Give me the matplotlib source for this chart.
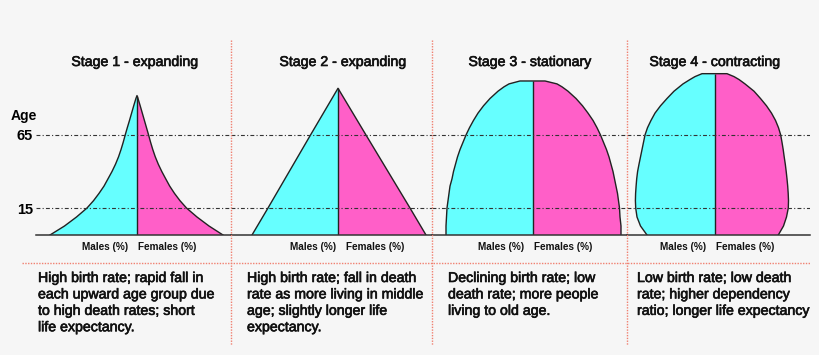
import numpy as np
import matplotlib
matplotlib.use("Agg")
import matplotlib.pyplot as plt
from matplotlib.lines import Line2D
import matplotlib.transforms as mtrans
import matplotlib.patheffects as pe

plt.rcParams['font.family'] = ['Liberation Sans', 'DejaVu Sans']

# ---------------- data ----------------
stage_titles = ["Stage 1 - expanding", "Stage 2 - expanding",
                "Stage 3 - stationary", "Stage 4 - contracting"]

descriptions = [
    ["High birth rate; rapid fall in", "each upward age group due",
     "to high death rates; short", "life expectancy."],
    ["High birth rate; fall in death", "rate as more living in middle",
     "age; slightly longer life", "expectancy."],
    ["Declining birth rate; low", "death rate; more people",
     "living to old age."],
    ["Low birth rate; low death", "rate; higher dependency",
     "ratio; longer life expectancy"],
]

age_ticks = [15, 65]
age_tick_labels = ["15", "65"]
male_label = "Males (%)"
female_label = "Females (%)"
age_label = "Age"

# Stage 1 - expanding (concave pyramid)
ages_s1 = [0, 5, 10, 15, 20, 25, 30, 35, 40, 45, 50, 55, 60, 65, 70, 75, 80, 85, 90, 92]
males_s1 = [8.7, 7.25, 6.05, 5.0, 4.35, 3.8, 3.3, 2.9, 2.5, 2.15, 1.85, 1.6, 1.38, 1.18,
            0.97, 0.75, 0.54, 0.33, 0.11, 0.0]
females_s1 = [8.6, 7.2, 6.0, 4.95, 4.3, 3.75, 3.27, 2.87, 2.48, 2.13, 1.83, 1.58, 1.36, 1.16,
              0.95, 0.74, 0.53, 0.32, 0.1, 0.0]

# Stage 2 - expanding (triangle)
ages_s2 = [0, 15, 65, 97]
males_s2 = [8.6, 7.0, 2.75, 0.0]
females_s2 = [8.8, 7.2, 2.8, 0.0]

# Stage 3 - stationary (dome)
ages_s3 = [0, 5, 10, 15, 20, 25, 30, 35, 40, 45, 50, 55, 60, 65, 70, 75, 80, 85, 90, 95,
           98, 100, 102]
males_s3 = [8.7, 8.7, 8.65, 8.6, 8.5, 8.4, 8.3, 8.1, 7.95, 7.75, 7.55, 7.3, 7.0, 6.7,
            6.35, 5.95, 5.5, 4.95, 4.3, 3.5, 2.9, 2.4, 1.3]
females_s3 = [8.8, 8.8, 8.7, 8.65, 8.55, 8.45, 8.3, 8.15, 8.0, 7.8, 7.6, 7.35, 7.05, 6.75,
              6.4, 6.0, 5.5, 4.95, 4.3, 3.5, 2.9, 2.4, 1.2]

# Stage 4 - contracting (narrow base, wide middle)
ages_s4 = [0, 5, 10, 15, 20, 25, 30, 35, 40, 45, 50, 55, 60, 65, 70, 75, 80, 85, 90, 95,
           100, 103, 105, 107]
males_s4 = [6.8, 7.45, 7.8, 7.93, 7.96, 7.94, 7.89, 7.83, 7.74, 7.6, 7.45, 7.3, 7.15, 7.0,
            6.75, 6.4, 6.0, 5.45, 4.8, 4.1, 3.2, 2.5, 2.0, 1.3]
females_s4 = [6.33, 6.85, 7.15, 7.33, 7.35, 7.32, 7.27, 7.2, 7.12, 7.03, 6.92, 6.82, 6.7,
              6.57, 6.35, 6.05, 5.65, 5.15, 4.55, 3.9, 3.0, 2.4, 1.9, 1.2]

stages = [(ages_s1, males_s1, females_s1), (ages_s2, males_s2, females_s2),
          (ages_s3, males_s3, females_s3), (ages_s4, males_s4, females_s4)]

# ---------------- style / layout ----------------
BG = '#f6f6f6'
CYAN = '#66ffff'
PINK = '#ff5fc8'
EDGE = '#222222'
REF = '#333333'
RED = '#f08070'
TXT = '#111111'
W, H = 820, 355
heavy = [pe.withStroke(linewidth=0.45, foreground=TXT)]

# piecewise-linear schematic age scale (age -> vertical pixels above base)
AGE_KNOTS = [0, 15, 65, 120]
PIX_KNOTS = [0, 27, 100, 180.3]


def fwd(a):
    return np.interp(a, AGE_KNOTS, PIX_KNOTS)


def inv(p):
    return np.interp(p, PIX_KNOTS, AGE_KNOTS)


panels_px = [(36, 231, 137), (231, 432, 338), (432, 627, 533), (627, 810, 715)]
base_px = 235
top_h = 170
px_per_pct = 10.0
title_dx = [-0.2, 0.5, -0.3, 0.0]
label_cx = [-0.4, 0.35, -0.35, -0.35]
desc_x_px = [38, 247, 448, 637]

fig = plt.figure(figsize=(8.2, 3.55), dpi=100, facecolor=BG)

for i, ((l, r, c), (ages, males, females)) in enumerate(zip(panels_px, stages)):
    ax = fig.add_axes([l / W, (H - base_px) / H, (r - l) / W, top_h / H])
    ax.patch.set_visible(False)
    for s in ax.spines.values():
        s.set_visible(False)
    ax.set_yscale('function', functions=(fwd, inv))
    ax.set_xlim((l - c) / px_per_pct, (r - c) / px_per_pct)
    ax.set_ylim(0, inv(top_h))
    ax.set_xticks([])

    a = np.asarray(ages, float)
    m = np.asarray(males, float)
    f = np.asarray(females, float)
    ax.fill_betweenx(a, -m, 0, facecolor=CYAN, edgecolor='none', zorder=1)
    ax.fill_betweenx(a, 0, f, facecolor=PINK, edgecolor='none', zorder=1)
    ax.plot(np.concatenate([-m, f[::-1]]), np.concatenate([a, a[::-1]]),
            color=EDGE, lw=1.0, zorder=2, solid_joinstyle='round')
    ax.vlines(0, 0, a[-1], color=EDGE, lw=1.0, zorder=2)

    for t in age_ticks:
        ax.axhline(t, color=REF, lw=0.8, dashes=(3.5, 2.0, 1.0, 2.0), zorder=3)
    ax.axhline(0, color=REF, lw=1.1, zorder=4, clip_on=False)

    if i == 0:
        ax.set_yticks(age_ticks)
        ax.set_yticklabels(age_tick_labels, fontsize=10.5, fontweight='bold')
        ax.tick_params(axis='y', length=0, pad=2)
        trans = mtrans.blended_transform_factory(ax.transAxes, ax.transData)
        ax.text(0.005, 75.3, age_label, transform=trans, ha='right', va='baseline',
                fontsize=10, fontweight='bold')
    else:
        ax.set_yticks([])

    ttrans = mtrans.blended_transform_factory(ax.transData, ax.transAxes)
    ax.text(title_dx[i], 1 - 1.0 / top_h, stage_titles[i], transform=ttrans,
            ha='center', va='baseline', fontsize=10.2, color=TXT, path_effects=heavy)

    ax.annotate(male_label, xy=(label_cx[i] - 0.5, 0), xytext=(0, -12),
                textcoords='offset pixels', ha='right', va='center',
                fontsize=7.2, fontweight='bold', color=TXT, annotation_clip=False)
    ax.annotate(female_label, xy=(label_cx[i] + 0.5, 0), xytext=(0, -12),
                textcoords='offset pixels', ha='left', va='center',
                fontsize=7.2, fontweight='bold', color=TXT, annotation_clip=False)

    fig.text(desc_x_px[i] / W, 1 - 271 / H, "\n".join(descriptions[i]),
             ha='left', va='top', fontsize=10.2, linespacing=1.22, color=TXT,
             path_effects=heavy)

# dotted red dividers
for x in [231, 432, 627]:
    fig.add_artist(Line2D([x / W, x / W], [1 - 40 / H, 1 - 345 / H],
                          transform=fig.transFigure, color=RED, lw=1.0,
                          linestyle=(0, (1, 1))))
fig.add_artist(Line2D([22 / W, 810 / W], [1 - 263 / H, 1 - 263 / H],
                      transform=fig.transFigure, color=RED, lw=1.0,
                      linestyle=(0, (1, 1))))

fig.savefig('out.png', dpi=100, facecolor=BG)
